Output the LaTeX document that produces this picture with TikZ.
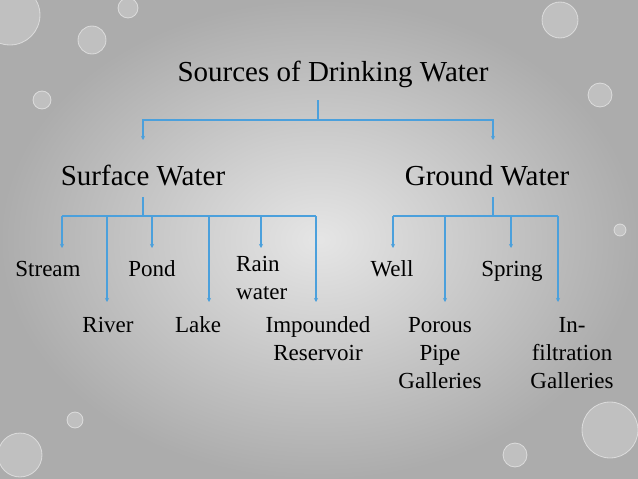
\documentclass[tikz,border=0pt]{standalone}
\usepackage{fontspec}
\setmainfont{Liberation Serif}
\usetikzlibrary{arrows.meta,shadings}
\definecolor{ln}{RGB}{75,160,220}
\begin{document}
\begin{tikzpicture}[x=1pt,y=-1pt,
  conn/.style={ln,line width=1.3pt,-{Stealth[length=4pt,width=4pt]}},
  plain/.style={ln,line width=1.3pt},
  lbl/.style={font=\fontsize{23}{28}\selectfont,align=center,inner sep=0pt},
  hd/.style={font=\fontsize{29}{32}\selectfont,inner sep=0pt,anchor=base},
  drop/.style={fill=white,fill opacity=0.25,draw=white,draw opacity=0.5,line width=0.8pt}]
\shade[inner color=gray!20,outer color=gray!65] (0,0) rectangle (638,479);
\useasboundingbox (0,0) rectangle (638,479);
% decorative drops
\path[drop] (10,15) circle (30);
\path[drop] (92,40) circle (14);
\path[drop] (42,100) circle (9);
\path[drop] (128,8) circle (10);
\path[drop] (560,20) circle (18);
\path[drop] (600,95) circle (12);
\path[drop] (610,430) circle (28);
\path[drop] (515,455) circle (12);
\path[drop] (20,455) circle (22);
\path[drop] (75,420) circle (8);
\path[drop] (620,230) circle (6);
% headings
\node[hd] (t) at (333,81) {Sources of Drinking Water};
\node[hd] (sw) at (143,185) {Surface Water};
\node[hd] (gw) at (487,185) {Ground Water};
\coordinate (ts) at (318,100);
\coordinate (tb) at (318,120);
\draw[plain] (ts) -- (tb);
\draw[conn] (tb) -| (143,140);
\draw[conn] (tb) -| (493,140);
% surface
\node[lbl,anchor=base] (a1) at (48,276) {Stream};
\node[lbl] (a2) at (108,325) {River};
\node[lbl,anchor=base] (a3) at (152,276) {Pond};
\node[lbl] (a4) at (198,325) {Lake};
\node[lbl,align=left,anchor=north west] (a5) at (236,256) {Rain\\water};
\node[lbl] (a6) at (318,339) {Impounded\\Reservoir};
\coordinate (s0) at (143,197);\coordinate (s1) at (143,216);
\draw[plain] (s0)--(s1);
\draw[plain] (62,216) -- (316,216);
\foreach \x/\y in {62/248,107/302,152/248,209/302,261/248,316/302}
  \draw[conn] (\x,216) -- (\x,\y);
% ground
\node[lbl,anchor=base] (b1) at (392,276) {Well};
\node[lbl] (b2) at (440,353) {Porous\\Pipe\\Galleries};
\node[lbl,anchor=base] (b3) at (512,276) {Spring};
\node[lbl] (b4) at (572,353) {In-\\filtration\\Galleries};
\coordinate (g0) at (493,197);\coordinate (g1) at (493,216);
\draw[plain] (g0)--(g1);
\draw[plain] (393,216) -- (558,216);
\foreach \x/\y in {393/248,445/302,511/248,558/302}
  \draw[conn] (\x,216) -- (\x,\y);
\end{tikzpicture}
\end{document}
